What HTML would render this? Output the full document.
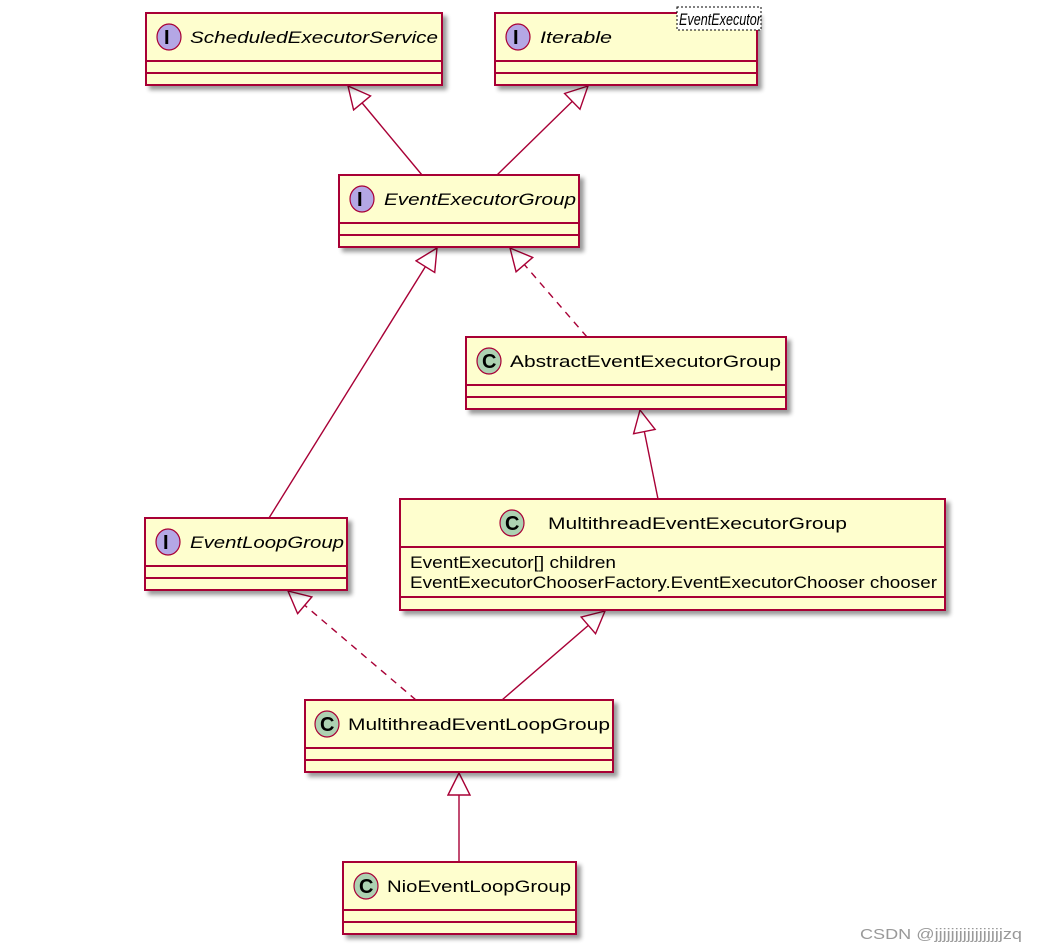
<!DOCTYPE html>
<html><head><meta charset="utf-8"><style>
html,body{margin:0;padding:0;background:#fff;}
svg{display:block;}
text{font-family:"Liberation Sans","DejaVu Sans",sans-serif;font-size:17px;fill:#000;}
.i{font-style:italic;}
.b{fill:#FEFECE;stroke:#A80036;stroke-width:2;}
.l{stroke:#A80036;stroke-width:2;}
.e{stroke:#A80036;stroke-width:1.4;fill:none;}
.ci{fill:#B4A7E5;stroke:#A80036;stroke-width:1.2;}
.cc{fill:#ADD1B2;stroke:#A80036;stroke-width:1.2;}
.g{font-weight:bold;font-size:20px;}
</style></head><body>
<svg width="1037" height="952" viewBox="0 0 1037 952" xmlns="http://www.w3.org/2000/svg">
<defs>
<filter id="sh" x="-10%" y="-10%" width="130%" height="140%"><feGaussianBlur in="SourceAlpha" stdDeviation="2"/><feOffset dx="4" dy="4"/><feComponentTransfer><feFuncA type="linear" slope="0.4"/></feComponentTransfer><feMerge><feMergeNode/><feMergeNode in="SourceGraphic"/></feMerge></filter>
<marker id="t" markerWidth="26" markerHeight="26" refX="23" refY="12" orient="auto" markerUnits="userSpaceOnUse" viewBox="0 0 26 26"><path d="M23,12 L1,1 L1,23 Z" fill="#fff" stroke="#A80036" stroke-width="1.4"/></marker>
</defs>

<line class="e" x1="422" y1="175" x2="348" y2="86" marker-end="url(#t)"/>
<line class="e" x1="497" y1="175" x2="588" y2="86" marker-end="url(#t)"/>
<line class="e" x1="269" y1="518" x2="437" y2="248" marker-end="url(#t)"/>
<line class="e" x1="587" y1="337" x2="510" y2="248" stroke-dasharray="7,6" marker-end="url(#t)"/>
<line class="e" x1="658" y1="499" x2="640" y2="410" marker-end="url(#t)"/>
<line class="e" x1="416" y1="700" x2="288" y2="591" stroke-dasharray="7,6" marker-end="url(#t)"/>
<line class="e" x1="502" y1="700" x2="605" y2="611" marker-end="url(#t)"/>
<line class="e" x1="459" y1="862" x2="459" y2="773" marker-end="url(#t)"/>

<g filter="url(#sh)"><rect class="b" x="146" y="13" width="296" height="72"/></g>
<line class="l" x1="146" y1="61" x2="442" y2="61"/><line class="l" x1="146" y1="73" x2="442" y2="73"/>
<ellipse class="ci" cx="169" cy="37" rx="12" ry="13"/><text class="g" x="164" y="44">I</text>
<text class="i" x="190" y="43" textLength="248" lengthAdjust="spacingAndGlyphs">ScheduledExecutorService</text>

<g filter="url(#sh)"><rect class="b" x="495" y="13" width="262" height="72"/></g>
<line class="l" x1="495" y1="61" x2="757" y2="61"/><line class="l" x1="495" y1="73" x2="757" y2="73"/>
<ellipse class="ci" cx="518" cy="37" rx="12" ry="13"/><text class="g" x="513" y="44">I</text>
<text class="i" x="540" y="43" textLength="72" lengthAdjust="spacingAndGlyphs">Iterable</text>
<rect x="677" y="7" width="84" height="23" fill="#fff" stroke="#000" stroke-width="1" stroke-dasharray="2,2"/>
<text class="i" x="679" y="25" textLength="82" lengthAdjust="spacingAndGlyphs">EventExecutor</text>

<g filter="url(#sh)"><rect class="b" x="339" y="175" width="240" height="72"/></g>
<line class="l" x1="339" y1="223" x2="579" y2="223"/><line class="l" x1="339" y1="235" x2="579" y2="235"/>
<ellipse class="ci" cx="362" cy="199" rx="12" ry="13"/><text class="g" x="357" y="206">I</text>
<text class="i" x="384" y="205" textLength="192" lengthAdjust="spacingAndGlyphs">EventExecutorGroup</text>

<g filter="url(#sh)"><rect class="b" x="466" y="337" width="320" height="72"/></g>
<line class="l" x1="466" y1="385" x2="786" y2="385"/><line class="l" x1="466" y1="397" x2="786" y2="397"/>
<ellipse class="cc" cx="489" cy="361" rx="12" ry="13"/><text class="g" x="482" y="368">C</text>
<text x="510" y="367" textLength="271" lengthAdjust="spacingAndGlyphs">AbstractEventExecutorGroup</text>

<g filter="url(#sh)"><rect class="b" x="145" y="518" width="202" height="72"/></g>
<line class="l" x1="145" y1="566" x2="347" y2="566"/><line class="l" x1="145" y1="578" x2="347" y2="578"/>
<ellipse class="ci" cx="168" cy="542" rx="12" ry="13"/><text class="g" x="163" y="549">I</text>
<text class="i" x="190" y="548" textLength="154" lengthAdjust="spacingAndGlyphs">EventLoopGroup</text>

<g filter="url(#sh)"><rect class="b" x="400" y="499" width="545" height="111"/></g>
<line class="l" x1="400" y1="547" x2="945" y2="547"/><line class="l" x1="400" y1="597" x2="945" y2="597"/>
<ellipse class="cc" cx="512" cy="523" rx="12" ry="13"/><text class="g" x="505" y="530">C</text>
<text x="548" y="529" textLength="299" lengthAdjust="spacingAndGlyphs">MultithreadEventExecutorGroup</text>
<text x="410" y="568" textLength="206" lengthAdjust="spacingAndGlyphs">EventExecutor[] children</text>
<text x="410" y="588" textLength="527" lengthAdjust="spacingAndGlyphs">EventExecutorChooserFactory.EventExecutorChooser chooser</text>

<g filter="url(#sh)"><rect class="b" x="305" y="700" width="308" height="72"/></g>
<line class="l" x1="305" y1="748" x2="613" y2="748"/><line class="l" x1="305" y1="760" x2="613" y2="760"/>
<ellipse class="cc" cx="327" cy="724" rx="12" ry="13"/><text class="g" x="320" y="731">C</text>
<text x="348" y="730" textLength="262" lengthAdjust="spacingAndGlyphs">MultithreadEventLoopGroup</text>

<g filter="url(#sh)"><rect class="b" x="343" y="862" width="233" height="72"/></g>
<line class="l" x1="343" y1="910" x2="576" y2="910"/><line class="l" x1="343" y1="922" x2="576" y2="922"/>
<ellipse class="cc" cx="366" cy="886" rx="12" ry="13"/><text class="g" x="359" y="893">C</text>
<text x="387" y="892" textLength="184" lengthAdjust="spacingAndGlyphs">NioEventLoopGroup</text>

<text x="860" y="939" style="font-size:15px;fill:#999" textLength="162" lengthAdjust="spacingAndGlyphs">CSDN @jjjjjjjjjjjjjjjjjzq</text>
</svg>
</body></html>
